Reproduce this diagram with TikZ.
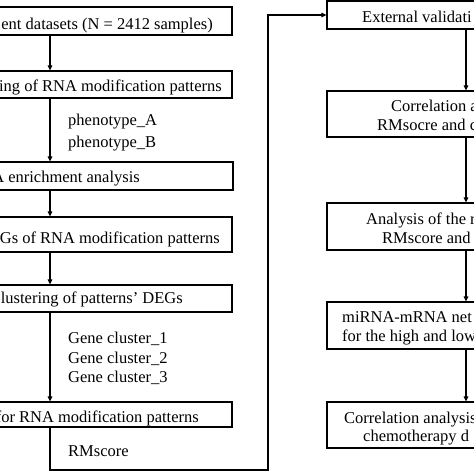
\documentclass[tikz,border=0pt]{standalone}
\usepackage{fontspec}
\setmainfont{Liberation Serif}
\usetikzlibrary{arrows.meta}
\begin{document}
\begin{tikzpicture}[x=1pt,y=-1pt,
  boxL/.style={draw,line width=1.2pt,rectangle,inner sep=0pt},
  txt/.style={inner sep=0pt,font=\fontsize{16.5}{19}\selectfont},
  conn/.style={line width=1.3pt,-{Triangle[length=5pt,width=4.5pt]}}]
\useasboundingbox (0,0) rectangle (474,474);
\clip (0,0) rectangle (474,474);
\fill[white] (0,0) rectangle (474,474);
% left column boxes
\node[boxL,minimum width=382pt,minimum height=28pt] (b1) at (41,21) {};
\node[boxL,minimum width=382pt,minimum height=27pt] (b2) at (41,84.5) {};
\node[boxL,minimum width=383pt,minimum height=28pt] (b3) at (41.5,176) {};
\node[boxL,minimum width=382pt,minimum height=35pt] (b4) at (41,234.5) {};
\node[boxL,minimum width=382pt,minimum height=27pt] (b5) at (41,298.5) {};
\node[boxL,minimum width=382pt,minimum height=25pt] (b6) at (41,414.5) {};
% right column boxes
\node[boxL,minimum width=300pt,minimum height=28pt] (r1) at (477,15) {};
\node[boxL,minimum width=300pt,minimum height=46pt] (r2) at (477,114) {};
\node[boxL,minimum width=300pt,minimum height=47pt] (r3) at (477,226.5) {};
\node[boxL,minimum width=300pt,minimum height=47pt] (r4) at (477,325.5) {};
\node[boxL,minimum width=300pt,minimum height=46pt] (r5) at (477,425) {};
% texts left
\node[txt,anchor=base east] (t1) at (213,29) {ent datasets (N = 2412 samples)};
\node[txt,anchor=base east] (t2) at (222,91) {ing of RNA modification patterns};
\node[txt,anchor=base east] (t3) at (140,182) {A enrichment analysis};
\node[txt,anchor=base east] (t4) at (220,243) {Gs of RNA modification patterns};
\node[txt,anchor=base east] (t5) at (183,303) {lustering of patterns’ DEGs};
\node[txt,anchor=base east] (t6) at (199,422) {for RNA modification patterns};
\node[txt,anchor=base west] (l1) at (68,125) {phenotype\_A};
\node[txt,anchor=base west] (l2) at (68,147) {phenotype\_B};
\node[txt,anchor=base west] (l3) at (68,343) {Gene cluster\_1};
\node[txt,anchor=base west] (l4) at (68,363) {Gene cluster\_2};
\node[txt,anchor=base west] (l5) at (68,382) {Gene cluster\_3};
\node[txt,anchor=base west] (l6) at (68,456) {RMscore};
% texts right
\node[txt,anchor=base west] (s1) at (362,22) {External validati};
\node[txt,anchor=base west] (s2a) at (391,111) {Correlation a};
\node[txt,anchor=base west] (s2b) at (377,130) {RMsocre and c};
\node[txt,anchor=base west] (s3a) at (366,224) {Analysis of the r};
\node[txt,anchor=base west] (s3b) at (382,243) {RMscore and};
\node[txt,anchor=base west] (s4a) at (342,322) {miRNA-mRNA net};
\node[txt,anchor=base west] (s4b) at (342,341) {for the high and low};
\node[txt,anchor=base west] (s5a) at (344,423) {Correlation analysis};
\node[txt,anchor=base west] (s5b) at (363,441) {chemotherapy d};
% connectors
\coordinate (colL) at (50,0);
\coordinate (colR) at (466,0);
\coordinate (turn1) at (268,470);
\draw[conn] (b1.south -| colL) -- (b2.north -| colL);
\draw[conn] (b2.south -| colL) -- (b3.north -| colL);
\draw[conn] (b3.south -| colL) -- (b4.north -| colL);
\draw[conn] (b4.south -| colL) -- (b5.north -| colL);
\draw[conn] (b5.south -| colL) -- (b6.north -| colL);
\draw[conn,rounded corners=0pt] (b6.south -| colL) |- (turn1) |- (r1.west);
\draw[conn] (r1.south -| colR) -- (r2.north -| colR);
\draw[conn] (r2.south -| colR) -- (r3.north -| colR);
\draw[conn] (r3.south -| colR) -- (r4.north -| colR);
\draw[conn] (r4.south -| colR) -- (r5.north -| colR);
\end{tikzpicture}
\end{document}
